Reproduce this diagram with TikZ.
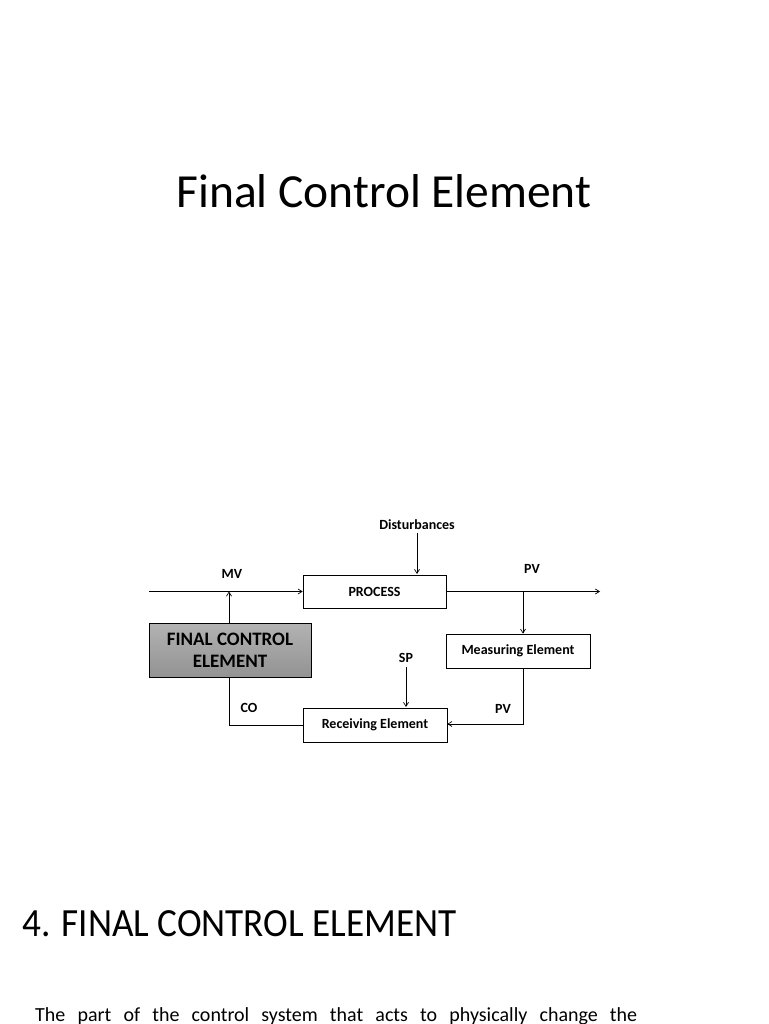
\documentclass[tikz,border=0pt]{standalone}
\usepackage{fontspec}
\setmainfont{Carlito}
\usetikzlibrary{arrows.meta}
\begin{document}
\begin{tikzpicture}[x=1pt,y=-1pt,
  box/.style={draw,line width=0.7pt,minimum width=143pt,minimum height=33pt,inner sep=0pt,font=\bfseries\fontsize{14}{16}\selectfont},
  lbl/.style={font=\bfseries\fontsize{14}{16}\selectfont,inner sep=0pt},
  arr/.style={line width=0.7pt,-{Straight Barb[length=4pt,width=5pt]}},
  ln/.style={line width=0.7pt}]
\useasboundingbox (0,0) rectangle (768,1024);
\node[font=\fontsize{47.5}{54}\selectfont,inner sep=0pt] (title) at (384,191) {Final Control Element};
\node[box] (proc) at (374.5,591.5) {PROCESS};
\node[box,minimum width=162pt,minimum height=54pt,top color=gray!60,bottom color=gray!85,align=center,font=\bfseries\fontsize{19}{22}\selectfont] (fce) at (230,650) {FINAL CONTROL\\ELEMENT};
\node[box,minimum width=144pt,minimum height=34pt] (meas) at (518,651) {Measuring Element};
\node[box,minimum width=144pt,minimum height=34pt] (recv) at (375,725) {Receiving Element};
\coordinate (in) at (149,591.5);
\coordinate (out) at (600,591.5);
\coordinate (br) at (523,591.5);
\coordinate (mb) at (523,724);
\coordinate (cl) at (229,725);
\coordinate (mvj) at (229,591.5);
\node[lbl] (dist) at (417,525) {Disturbances};
\node[lbl] (sp) at (406,658) {SP};
\node[lbl] (mv) at (232,574) {MV};
\node[lbl] (pv1) at (532,569) {PV};
\node[lbl] (co) at (249,708) {CO};
\node[lbl] (pv2) at (503,709) {PV};
\draw[arr] (in) -- (proc.west);
\draw[arr] (proc.east) -- (out);
\draw[arr] (br) -- (br |- meas.north);
\draw[arr] (mb |- meas.south) -- (mb) -- (recv.east |- mb);
\draw[ln] (recv.west) -- (cl) -- (cl |- fce.south);
\draw[arr] (mvj |- fce.north) -- (mvj);
\draw[arr] (417,533) -- (417,574);
\draw[arr] (406,667) -- (406,707);
\node[anchor=west,inner sep=0pt,font=\fontsize{40}{46}\selectfont,xscale=0.93] (h) at (22,924) {4. FINAL CONTROL ELEMENT};
\node[anchor=west,inner sep=0pt,font=\fontsize{20}{24}\selectfont,text width=602pt,align=justify] (body) at (35,1016) {The\hfill part\hfill of\hfill the\hfill control\hfill system\hfill that\hfill acts\hfill to\hfill physically\hfill change\hfill the};
\end{tikzpicture}
\end{document}
